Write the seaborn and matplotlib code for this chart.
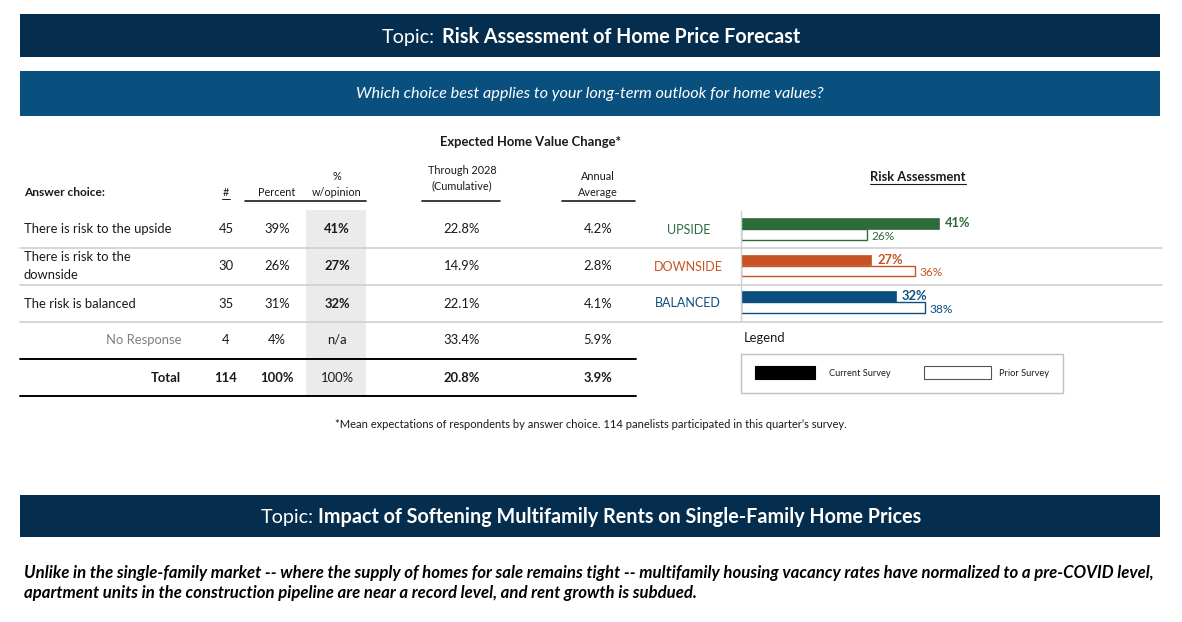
import matplotlib
matplotlib.use("Agg")
import matplotlib.pyplot as plt
import seaborn as sns
import pandas as pd
from matplotlib.patches import Rectangle

# ---------------- data ----------------
answer_choices = ["There is risk to the upside", "There is risk to the\ndownside",
                  "The risk is balanced", "No Response", "Total"]
counts = [45, 30, 35, 4, 114]
percents = [39, 26, 31, 4, 100]
pct_opinion = [41, 27, 32, None, 100]
cumulative = [22.8, 14.9, 22.1, 33.4, 20.8]
annual = [4.2, 2.8, 4.1, 5.9, 3.9]

risk_categories = ["UPSIDE", "DOWNSIDE", "BALANCED"]
current_survey = [41, 27, 32]
prior_survey = [26, 36, 38]
survey_labels = ["Current Survey", "Prior Survey"]

title1_a, title1_b = "Topic:", "Risk Assessment of Home Price Forecast"
question = "Which choice best applies to your long-term outlook for home values?"
title2_a, title2_b = "Topic:", "Impact of Softening Multifamily Rents on Single-Family Home Prices"
footnote = "*Mean expectations of respondents by answer choice. 114 panelists participated in this quarter\u2019s survey."
body_lines = ["Unlike in the single-family market -- where the supply of homes for sale remains tight -- multifamily housing vacancy rates have normalized to a pre-COVID level,",
              "apartment units in the construction pipeline are near a record level, and rent growth is subdued."]

# ---------------- style ----------------
sns.set_theme(style="white")
plt.rcParams['font.family'] = ['Lato', 'DejaVu Sans']

NAVY = "#052e4e"
BLUE2 = "#0a507e"
GREEN = "#2e6b3a"
ORANGE = "#c85224"
BLUEB = "#0b4f7e"
cat_colors = [GREEN, ORANGE, BLUEB]
TXT = "#1a1a1a"
GRID = "#cfcfcf"

W, H = 1182, 622
fig = plt.figure(figsize=(W / 100, H / 100), dpi=100)
ax = fig.add_axes([0, 0, 1, 1])
ax.set_xlim(0, W)
ax.set_ylim(H, 0)
ax.axis("off")
renderer = fig.canvas.get_renderer()


def mixed_center(parts, xc, y, size, color, gap=4):
    texts = []
    for s, w, st in parts:
        t = ax.text(0, y, s, fontsize=size, fontweight=w, fontstyle=st,
                    color=color, va="center", ha="left")
        texts.append(t)
    widths = [t.get_window_extent(renderer).width for t in texts]
    total = sum(widths) + gap * (len(widths) - 1)
    x = xc - total / 2
    for t, w in zip(texts, widths):
        t.set_x(x)
        x += w + gap


# banners
ax.add_patch(Rectangle((20, 14), 1140, 43, facecolor=NAVY, edgecolor="none"))
ax.add_patch(Rectangle((20, 71), 1140, 45, facecolor=BLUE2, edgecolor="none"))
ax.add_patch(Rectangle((20, 495), 1140, 42, facecolor=NAVY, edgecolor="none"))
mixed_center([(title1_a, "normal", "normal"), (title1_b, "bold", "normal")], 591, 37, 14.2, "white", gap=7)
ax.text(590, 94, question, fontsize=11.7, fontstyle="italic", color="white", ha="center", va="center")
mixed_center([(title2_a, "normal", "normal"), (title2_b, "bold", "normal")], 591, 517, 14.2, "white", gap=5)

# shaded column
ax.add_patch(Rectangle((306, 210), 60, 187, facecolor="#ebebeb", edgecolor="none", zorder=0))

# headers
ax.text(530, 142, "Expected Home Value Change*", fontsize=9.4, fontweight="bold", color=TXT, ha="center", va="center")
ax.text(24, 193, "Answer choice:", fontsize=8.6, fontweight="bold", color=TXT, ha="left", va="center")
ax.text(226, 193, "#", fontsize=7.8, color=TXT, ha="center", va="center")
ax.plot([222, 230], [199, 199], color=TXT, lw=0.7)
ax.text(277, 193, "Percent", fontsize=7.8, color=TXT, ha="center", va="center")
ax.text(337, 176, "%", fontsize=7.8, color=TXT, ha="center", va="center")
ax.text(337, 193, "w/opinion", fontsize=7.8, color=TXT, ha="center", va="center")
ax.text(462, 170, "Through 2028", fontsize=7.8, color=TXT, ha="center", va="center")
ax.text(462, 186, "(Cumulative)", fontsize=7.8, color=TXT, ha="center", va="center")
ax.text(598, 176, "Annual", fontsize=7.8, color=TXT, ha="center", va="center")
ax.text(598, 193, "Average", fontsize=7.8, color=TXT, ha="center", va="center")
for x0, x1 in [(245, 366), (422, 500), (562, 635)]:
    ax.plot([x0, x1], [201, 201], color=TXT, lw=1.2)

# table rows
row_y = [229, 266, 304, 340, 378]
col_x = [226, 277, 337, 462, 598]
for i, lab in enumerate(answer_choices):
    y = row_y[i]
    total_row = (i == 4)
    if i < 3:
        ax.text(24, y, lab, fontsize=9.4, color=TXT, ha="left", va="center", linespacing=1.55)
    elif i == 3:
        ax.text(181, y, lab, fontsize=9.4, color="#808080", ha="right", va="center")
    else:
        ax.text(181, y, lab, fontsize=9.4, color=TXT, fontweight="bold", ha="right", va="center")
    op = "n/a" if pct_opinion[i] is None else f"{pct_opinion[i]}%"
    vals = [f"{counts[i]}", f"{percents[i]}%", op, f"{cumulative[i]:.1f}%", f"{annual[i]:.1f}%"]
    for j, v in enumerate(vals):
        if total_row:
            bold = j != 2
        else:
            bold = (j == 2 and i < 3)
        ax.text(col_x[j], y, v, fontsize=9.4, color=TXT, fontweight="bold" if bold else "normal",
                ha="center", va="center")

# separators
for y in [248, 285, 322]:
    ax.plot([20, 1162], [y, y], color=GRID, lw=1.2, zorder=1)
ax.plot([20, 636], [359, 359], color="black", lw=1.4)
ax.plot([20, 636], [396, 396], color="black", lw=1.4)

# footnote
ax.text(591, 424, footnote, fontsize=8, color=TXT, ha="center", va="center")

# body text
for k, line in enumerate(body_lines):
    ax.text(24, 573 + 20 * k, line, fontsize=12.1, fontweight="bold", fontstyle="italic",
            color="black", ha="left", va="center")

# risk assessment title
t = ax.text(918, 177, "Risk Assessment", fontsize=9.3, fontweight="bold", color=TXT, ha="center", va="center")
bb = t.get_window_extent(renderer)
ax.plot([bb.x0, bb.x1], [184, 184], color=TXT, lw=0.8)

# ---------------- bar chart ----------------
df = pd.DataFrame({
    "category": risk_categories * 2,
    "survey": [survey_labels[0]] * 3 + [survey_labels[1]] * 3,
    "value": current_survey + prior_survey,
})
top, bottom = 210.75, 320.25
left = 741
px_per_unit = 4.83
xmax = 50
bax = fig.add_axes([left / W, 1 - bottom / H, xmax * px_per_unit / W, (bottom - top) / H])
sns.barplot(data=df, x="value", y="category", hue="survey", orient="h", width=0.62, gap=0.06,
            ax=bax, legend=False, order=risk_categories, hue_order=survey_labels)
bax.set_xlim(0, xmax)
bax.set_ylim(2.5, -0.5)
bax.patch.set_alpha(0)
for s in ["top", "right", "bottom"]:
    bax.spines[s].set_visible(False)
bax.spines["left"].set_color("#d0d0d0")
bax.spines["left"].set_linewidth(1.0)
bax.set_xticks([])
bax.set_xlabel("")
bax.set_ylabel("")
bax.tick_params(axis="y", length=0, pad=38)
for lab, c in zip(bax.get_yticklabels(), cat_colors):
    lab.set_color(c)
    lab.set_ha("center")
    lab.set_fontsize(9)

for ci, cont in enumerate(bax.containers):
    for bi, patch in enumerate(cont):
        col = cat_colors[bi]
        w = patch.get_width()
        yc = patch.get_y() + patch.get_height() / 2
        if ci == 0:
            patch.set_facecolor(col)
            patch.set_edgecolor(col)
            patch.set_linewidth(0.5)
            bax.text(w + 1.2, yc, f"{w:.0f}%", color=col, fontsize=9.3, fontweight="bold",
                     ha="left", va="center")
        else:
            patch.set_facecolor("white")
            patch.set_edgecolor(col)
            patch.set_linewidth(1.0)
            bax.text(w + 1.0, yc + 0.05, f"{w:.0f}%", color=col, fontsize=8.6,
                     ha="left", va="center")

# legend
ax.text(744, 338, "Legend", fontsize=9.4, color=TXT, ha="left", va="center")
ax.add_patch(Rectangle((741, 354), 322, 39, facecolor="white", edgecolor="#c0c0c0", lw=1))
ax.add_patch(Rectangle((755, 366), 60, 13, facecolor="black", edgecolor="black", lw=0.8))
ax.text(829, 373, survey_labels[0], fontsize=6.7, color=TXT, ha="left", va="center")
ax.add_patch(Rectangle((924, 366), 67, 13, facecolor="white", edgecolor="#555555", lw=0.8))
ax.text(999, 373, survey_labels[1], fontsize=6.7, color=TXT, ha="left", va="center")

fig.savefig("out.png", dpi=100)
